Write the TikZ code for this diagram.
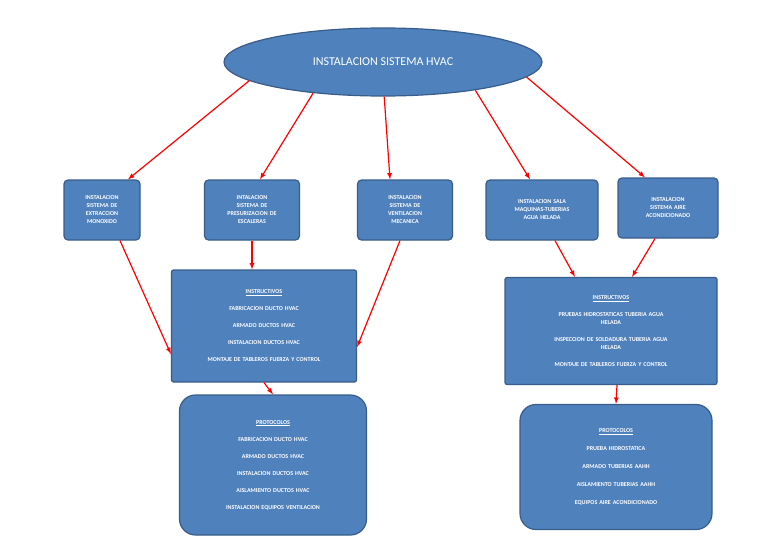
\documentclass[tikz,border=0pt]{standalone}
\usepackage{fontspec}
\setmainfont{Carlito}
\usetikzlibrary{shapes.geometric}
\definecolor{boxblue}{HTML}{4F81BD}
\definecolor{boxline}{HTML}{385D8A}
\begin{document}
\begin{tikzpicture}
	[x=1pt, y=-1pt,
	 Box/.style={draw=boxline, line width=1.2pt, fill=boxblue, text=white, font=\bfseries\fontsize{6}{8}\selectfont, align=center, rounded corners=4pt, inner sep=2pt},
	 Panel/.style={Box, rounded corners=2pt},
	 RoundPanel/.style={Box, rounded corners=16pt},
	 RedArrow/.style={->, >=latex, draw=red, line width=1.2pt}
	]
	\useasboundingbox (0,0) rectangle (768,543);
	
	\node[ellipse, draw=boxline, line width=1.2pt, fill=boxblue, text=white, minimum width=318pt, minimum height=68pt, font=\fontsize{12}{14}\selectfont] (title) at (383,62) {INSTALACION SISTEMA HVAC};	%Main topic
	
	\node[Box, minimum width=76pt, minimum height=60pt, text width=70pt] (b1) at (102,210) {INSTALACION\\SISTEMA DE\\EXTRACCION\\MONOXIDO};
	\node[Box, minimum width=95pt, minimum height=60pt, text width=88pt] (b2) at (252,210) {INTALACION\\SISTEMA DE\\PRESURIZACION DE\\ESCALERAS};
	\node[Box, minimum width=95pt, minimum height=60pt, text width=88pt] (b3) at (405,210) {INSTALACION\\SISTEMA DE\\VENTILACION\\MECANICA};
	\node[Box, minimum width=112pt, minimum height=60pt, text width=106pt] (b4) at (542,210) {INSTALACION SALA\\MAQUINAS-TUBERIAS\\AGUA HELADA\\[8pt]};
	\node[Box, minimum width=100pt, minimum height=60pt, text width=94pt] (b5) at (668,208) {INSTALACION\\SISTEMA AIRE\\ACONDICIONADO\\[8pt]};
	
	\node[Panel, minimum width=185pt, minimum height=112pt, text width=180pt] (insL) at (264,326) {\underline{INSTRUCTIVOS}\\[9pt]FABRICACION DUCTO HVAC\\[9pt]ARMADO DUCTOS HVAC\\[9pt]INSTALACION DUCTOS HVAC\\[9pt]MONTAJE DE TABLEROS FUERZA Y CONTROL};
	\node[RoundPanel, minimum width=187pt, minimum height=140pt, text width=180pt] (proL) at (273,465) {\underline{PROTOCOLOS}\\[9pt]FABRICACION DUCTO HVAC\\[9pt]ARMADO DUCTOS HVAC\\[9pt]INSTALACION DUCTOS HVAC\\[9pt]AISLAMIENTO DUCTOS HVAC\\[9pt]INSTALACION EQUIPOS VENTILACION};
	\node[Panel, minimum width=212pt, minimum height=107pt, text width=205pt] (insR) at (611,331) {\underline{INSTRUCTIVOS}\\[9pt]PRUEBAS HIDROSTATICAS TUBERIA AGUA\\HELADA\\[9pt]INSPECCION DE SOLDADURA TUBERIA AGUA\\HELADA\\[9pt]MONTAJE DE TABLEROS FUERZA Y CONTROL};
	\node[RoundPanel, minimum width=192pt, minimum height=125pt, text width=185pt] (proR) at (616,467) {\underline{PROTOCOLOS}\\[10pt]PRUEBA HIDROSTATICA\\[10pt]ARMADO TUBERIAS AAHH\\[10pt]AISLAMIENTO TUBERIAS AAHH\\[10pt]EQUIPOS AIRE ACONDICIONADO};
	
	\draw[RedArrow] (title.188) -- ([xshift=26pt]b1.north);
	\draw[RedArrow] (title.204) -- ([xshift=8pt]b2.north);
	\draw[RedArrow] (title.272) -- ([xshift=-15pt]b3.north);
	\draw[RedArrow] (title.343) -- ([xshift=-12pt]b4.north);
	\draw[RedArrow] (title.354) -- ([xshift=-23pt]b5.north);
	
	\draw[RedArrow] ([xshift=18pt]b1.south) -- ([yshift=-28pt]insL.west);		%left group
	\draw[RedArrow] (b2.south) -- ([xshift=-12pt]insL.north);
	\draw[RedArrow] ([xshift=-5pt]b3.south) -- ([yshift=-21pt]insL.east);
	\draw[RedArrow] (insL.south) -- (proL.north);
	
	\draw[RedArrow] ([xshift=13pt]b4.south) -- ([xshift=-36pt]insR.north);	%right group
	\draw[RedArrow] ([xshift=-13pt]b5.south) -- ([xshift=21pt]insR.north);
	\draw[RedArrow] ([xshift=6pt]insR.south) -- (proR.north);
\end{tikzpicture}
\end{document}
